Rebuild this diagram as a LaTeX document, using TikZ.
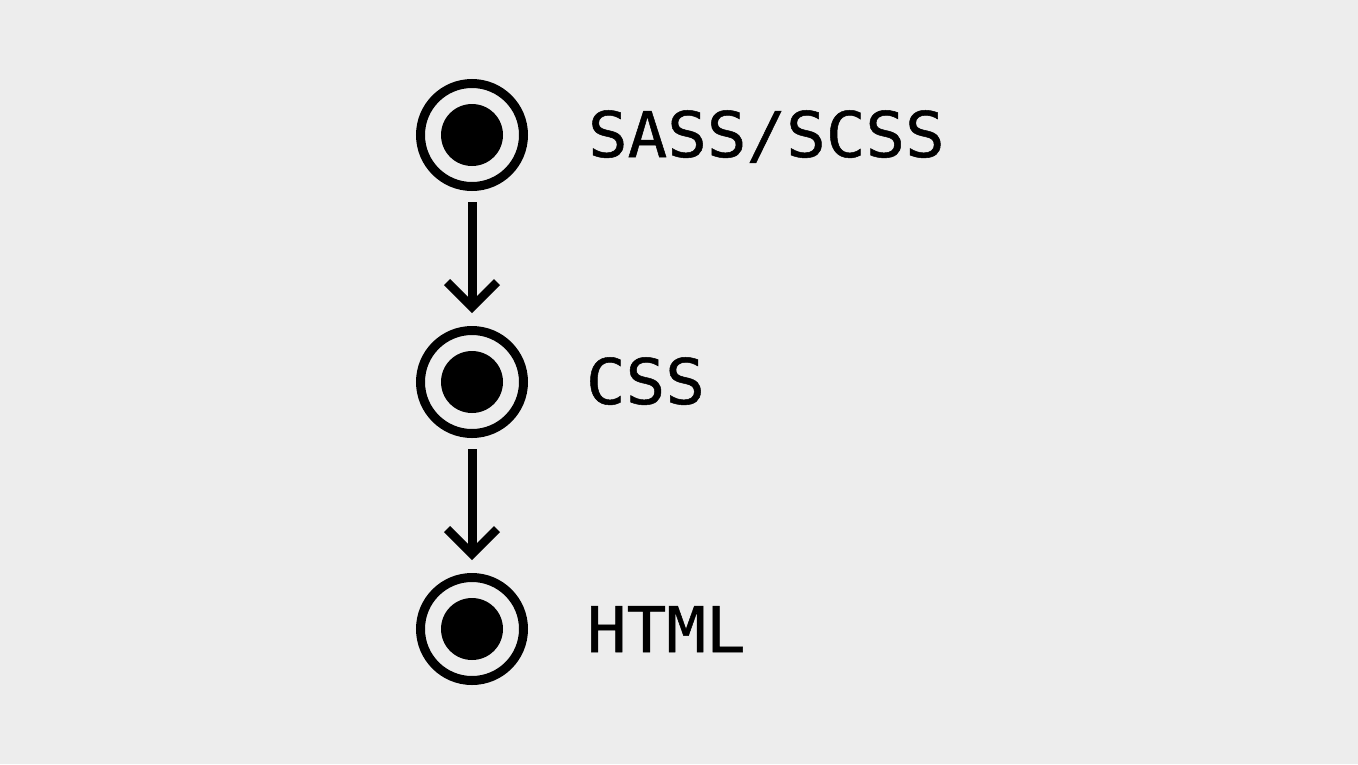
\documentclass[tikz,border=0pt]{standalone}
\usepackage{fontspec}
\newfontfamily\labelfont[FakeStretch=1.045,FakeBold=0.8]{DejaVu Sans Mono}
\definecolor{bgc}{RGB}{237,237,237}
\tikzset{
  ring/.style={circle, draw=black, line width=9pt, minimum size=103pt, inner sep=0pt, outer sep=4.5pt,
    path picture={\fill[black] (path picture bounding box.center) circle[radius=31pt];}},
  lbl/.style={anchor=base west, inner sep=0pt, outer sep=0pt, font=\labelfont\fontsize{63}{70}\selectfont},
  stem/.style={line width=9pt, line cap=butt},
  chev/.style={line width=8.5pt, line cap=butt, line join=miter}
}
\begin{document}
\begin{tikzpicture}[x=1pt,y=-1pt]
\fill[bgc] (0,0) rectangle (1358,764);
\useasboundingbox (0,0) rectangle (1358,764);
\node[ring] (n1) at (472,135) {};
\node[ring] (n2) at (472,382) {};
\node[ring] (n3) at (472,629) {};
\node[lbl] (l1) at (588,157) {SASS/SCSS};
\node[lbl] (l2) at (586,404) {CSS};
\node[lbl] (l3) at (587,652) {HTML};
\draw[stem] ([yshift=-11pt]n1.south) -- ([yshift=19pt]n2.north) coordinate (t1);
\draw[chev] ([shift={(-25pt,25pt)}]t1) -- (t1) -- ([shift={(25pt,25pt)}]t1);
\draw[stem] ([yshift=-11pt]n2.south) -- ([yshift=19pt]n3.north) coordinate (t2);
\draw[chev] ([shift={(-25pt,25pt)}]t2) -- (t2) -- ([shift={(25pt,25pt)}]t2);
\end{tikzpicture}
\end{document}
